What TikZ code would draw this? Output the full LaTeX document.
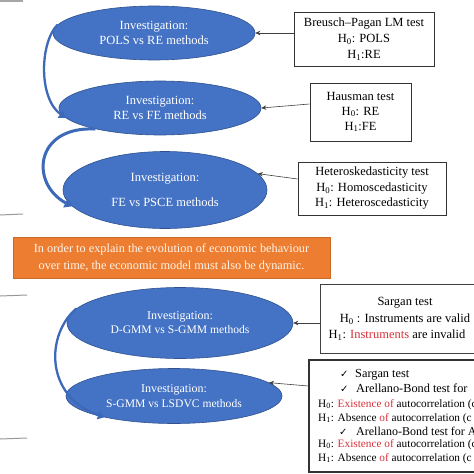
\documentclass[tikz,border=0pt]{standalone}
\usepackage{fontspec}
\setmainfont{Liberation Serif}
\newfontfamily\dejavu{DejaVu Sans}
\usetikzlibrary{shapes.geometric,arrows.meta}
\definecolor{ellblue}{HTML}{4472C4}
\definecolor{elledge}{HTML}{2F528F}
\definecolor{arrblue}{HTML}{3D69B9}
\definecolor{orangebox}{HTML}{ED7D31}
\definecolor{redtxt}{HTML}{D9323A}
\newcommand{\ckmark}{{\dejavu\fontsize{10}{10}\selectfont ✓}}
\begin{document}
\begin{tikzpicture}[x=1pt,y=-1pt,
  ell/.style={ellipse, fill=ellblue, draw=elledge, line width=0.6pt, inner sep=0pt, text=white, align=center, font=\fontsize{12.5}{15}\selectfont},
  testbox/.style={draw=black!80, line width=0.8pt, align=center, inner sep=0pt, fill=white},
  ptr/.style={draw=black!75, line width=0.6pt, -{Stealth[length=5pt,width=4.5pt]}},
  curv/.style={draw=arrblue, line width=2.3pt, -{Triangle[width=8.5pt,length=6.5pt]}},
  leftline/.style={draw=gray!80, line width=1pt},
  txt/.style={inner sep=0pt, anchor=base west, font=\fontsize{11.3}{13}\selectfont},
  cktxt/.style={inner sep=0pt, anchor=base west, font=\fontsize{12.3}{14}\selectfont}
]
\useasboundingbox (0,0) rectangle (474,474);
\clip (0,0) rectangle (474,474);
\fill[white] (0,0) rectangle (474,474);

% left gray marks
\draw[gray!70, line width=2.5pt] (0,1) -- (23,1);
\draw[leftline] (0,215) -- (23,214);
\draw[leftline] (0,296) -- (27,295);
\draw[leftline] (0,439) -- (27,438);

% ellipses
\node[ell, minimum width=202pt, minimum height=54pt] (E1) at (154,33) {Investigation:\\POLS vs RE methods};
\node[ell, minimum width=202pt, minimum height=54pt] (E2) at (160,108) {Investigation:\\RE vs FE methods};
\node[ell, minimum width=204pt, minimum height=77pt] (E3) at (165,190) {Investigation:\\[10pt]FE vs PSCE methods};
\node[ell, minimum width=226pt, minimum height=71pt, font=\fontsize{12}{14}\selectfont] (E4) at (180,323) {Investigation:\\{\fontsize{11.6}{14}\selectfont D-GMM vs S-GMM methods}};
\node[ell, minimum width=216pt, minimum height=55pt, font=\fontsize{12}{15}\selectfont] (E5) at (174,396) {Investigation:\\{\fontsize{11.6}{14}\selectfont S-GMM vs LSDVC methods}};

% curved blue arrows
\draw[curv] (E1.175) .. controls (40,42) and (38,98) .. (E2.186);
\draw[curv, line width=3pt, -{Triangle[width=10pt,length=7.5pt]}] (E2.198) .. controls (34,126) and (30,184) .. (E3.190);
\draw[curv] (E4.172) .. controls (46,334) and (44,396) .. (E5.197);

% test boxes
\node[testbox, minimum width=140pt, minimum height=54pt, font=\fontsize{12.5}{16}\selectfont] (B1) at (364,39) {Breusch–Pagan LM test\\H\textsubscript{0}: POLS\\H\textsubscript{1}:RE};
\node[testbox, minimum width=101pt, minimum height=58pt, font=\fontsize{12.5}{15}\selectfont] (B2) at (360.5,112) {Hausman test\\H\textsubscript{0}: RE\\H\textsubscript{1}:FE};
\node[testbox, minimum width=148pt, minimum height=53pt, font=\fontsize{12.5}{15.5}\selectfont] (B3) at (372,188.5) {Heteroskedasticity test\\H\textsubscript{0}: Homoscedasticity\\H\textsubscript{1}: Heteroscedasticity\hspace{9pt}};

\draw[ptr] ([yshift=6pt]B1.west) -- (E1.east);
\draw[ptr] ([yshift=8pt]B2.west) -- (E2.east);
\draw[ptr] ([yshift=9.5pt]B3.west) -- (E3.10);

% orange banner
\node[draw=orangebox!85!black, line width=0.5pt, fill=orangebox, minimum width=317pt, minimum height=41pt, inner sep=0pt, text=white!92!orange, align=center, font=\fontsize{12.3}{17}\selectfont] (OB) at (171.5,257.5) {In order to explain the evolution of economic behaviour\\over time, the economic model must also be dynamic.};

% Sargan box
\node[draw=black!75, line width=1pt, fill=white, minimum width=160pt, minimum height=69pt, inner sep=0pt] (B4) at (400,318.5) {};
\node[inner sep=0pt, anchor=base, font=\fontsize{12.5}{15}\selectfont] (B4a) at (405,305.5) {Sargan test};
\node[inner sep=0pt, anchor=base, font=\fontsize{12.5}{15}\selectfont] (B4b) at (405,322.5) {H\textsubscript{0} : Instruments are valid};
\node[inner sep=0pt, anchor=base, font=\fontsize{12.5}{15}\selectfont] (B4c) at (397,338.5) {H\textsubscript{1}: \textcolor{redtxt}{Instruments} are invalid};
\draw[ptr] ([yshift=-4.5pt]B4.west) -- (E4.east);

% dynamic tests box
\node[draw=black!80, line width=1.4pt, fill=white, minimum width=181pt, minimum height=112pt, inner sep=0pt] (B5) at (399.5,416) {};
\node[cktxt] (K1) at (340,377) {\ckmark};
\node[cktxt] (T1) at (355,377) {Sargan test};
\node[cktxt] (K2) at (340,392) {\ckmark};
\node[cktxt] (T2) at (356,392) {Arellano-Bond test for};
\node[txt] (T3) at (318,407) {H\textsubscript{0}: \textcolor{redtxt}{Existence of} autocorrelation (c};
\node[txt] (T4) at (318,421) {H\textsubscript{1}: Absence \textcolor{redtxt}{of} autocorrelation (c};
\node[cktxt] (K3) at (339,435) {\ckmark};
\node[cktxt, font=\fontsize{12}{14}\selectfont] (T5) at (356,435) {Arellano-Bond test for A};
\node[txt] (T6) at (318,447) {H\textsubscript{0}: \textcolor{redtxt}{Existence of} autocorrelation (c};
\node[txt] (T7) at (318,461) {H\textsubscript{1}: Absence \textcolor{redtxt}{of} autocorrelation (c};
\draw[ptr] ([yshift=30pt]B5.west) -- (E5.8);
\end{tikzpicture}
\end{document}
